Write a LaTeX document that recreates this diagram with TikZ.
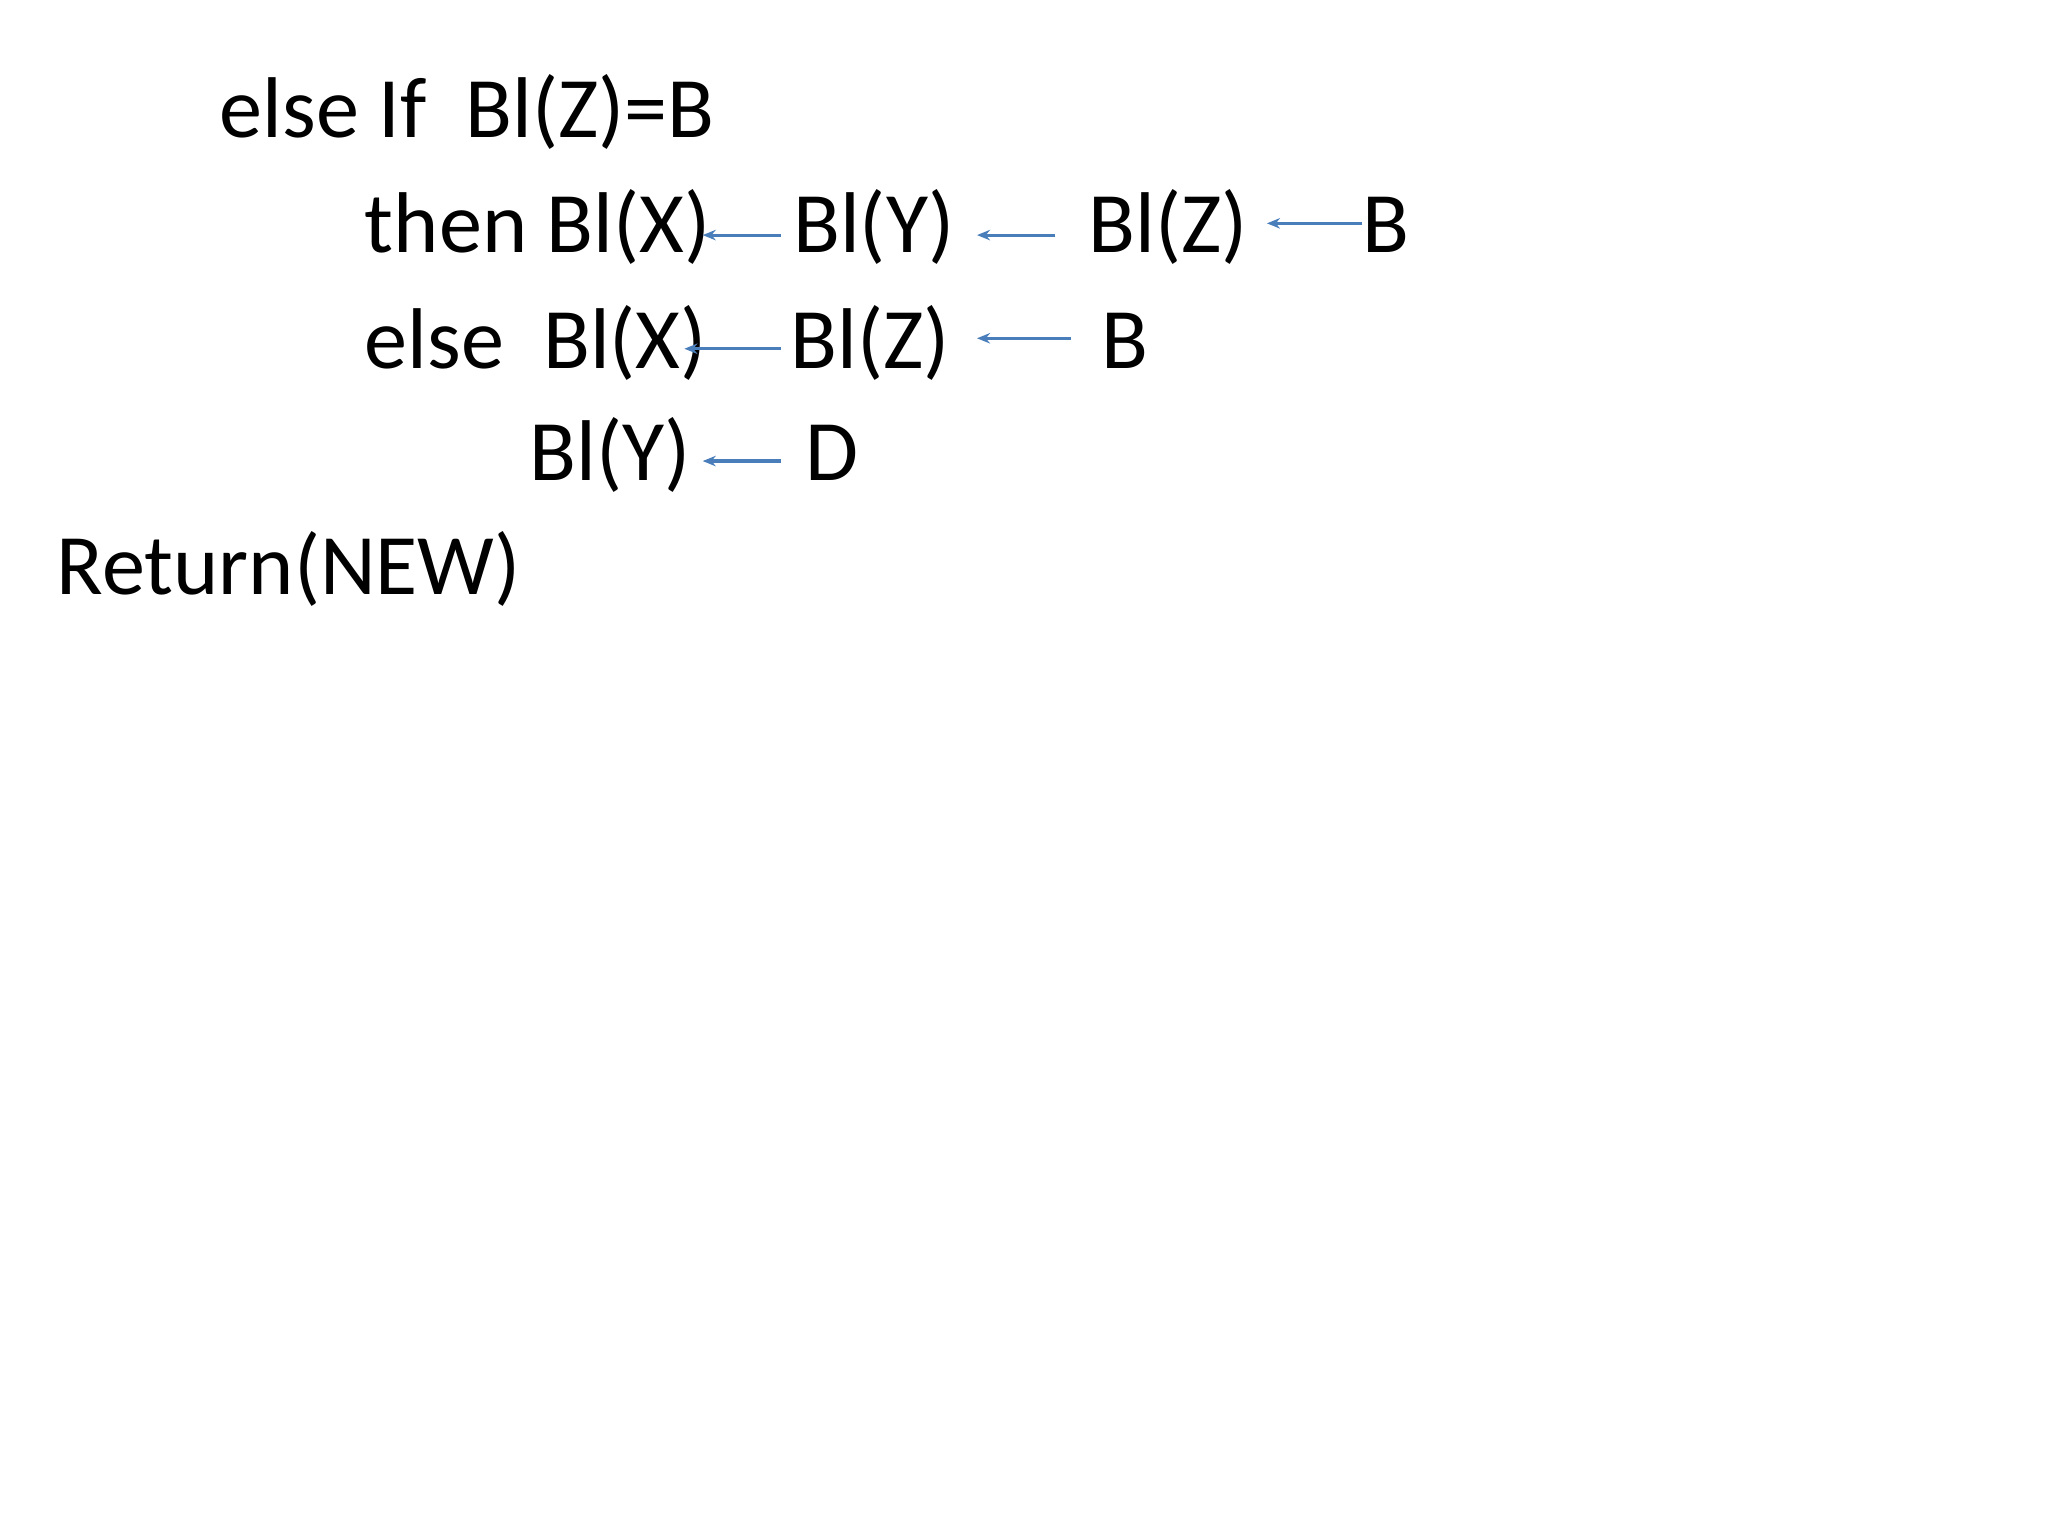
\documentclass[tikz,border=0pt]{standalone}
\usepackage{fontspec}
\setmainfont{Carlito}
\usetikzlibrary{arrows.meta}
\begin{document}
\begin{tikzpicture}[x=0.5pt,y=-0.5pt,
  txt/.style={anchor=base west,inner sep=0pt,font=\fontsize{33}{40}\selectfont},
  arr/.style={draw={rgb,255:red,74;green,126;blue,187},line width=1.2pt,-{Stealth[length=5pt,width=4pt]}}]
\useasboundingbox (0,0) rectangle (1568,1176);
\node[txt] (l1) at (168,105) {else If\ \ Bl(Z)=B};
\node[txt] (a1) at (279,193) {then Bl(X)};
\node[txt] (a2) at (607,193) {Bl(Y)};
\node[txt] (a3) at (833,193) {Bl(Z)};
\node[txt] (a4) at (1043,193) {B};
\node[txt] (b1) at (279,282) {else\ \ Bl(X)};
\node[txt] (b2) at (605,282) {Bl(Z)};
\node[txt] (b3) at (843,282) {B};
\node[txt] (c1) at (405,368) {Bl(Y)};
\node[txt] (c2) at (616,368) {D};
\node[txt] (r) at (43,455) {Return(NEW)};
\coordinate (p1s) at (598,180); \coordinate (p1e) at (538,180);
\coordinate (p2s) at (808,180); \coordinate (p2e) at (748,180);
\coordinate (p3s) at (1043,171); \coordinate (p3e) at (970,171);
\coordinate (q1s) at (598,267); \coordinate (q1e) at (524,267);
\coordinate (q2s) at (820,259); \coordinate (q2e) at (748,259);
\coordinate (s1s) at (598,353); \coordinate (s1e) at (538,353);
\draw[arr] (p1s) -- (p1e);
\draw[arr] (p2s) -- (p2e);
\draw[arr] (p3s) -- (p3e);
\draw[arr] (q1s) -- (q1e);
\draw[arr] (q2s) -- (q2e);
\draw[arr] (s1s) -- (s1e);
\end{tikzpicture}
\end{document}
